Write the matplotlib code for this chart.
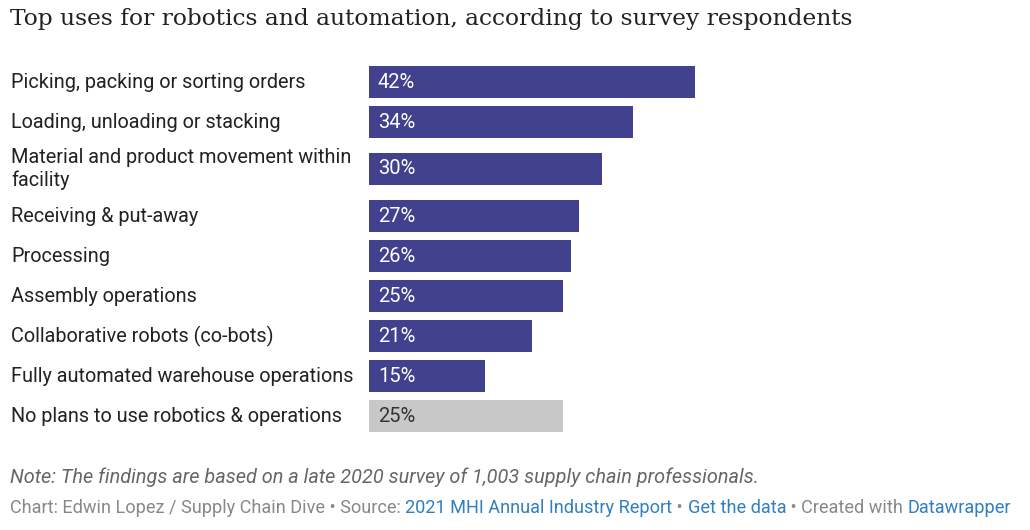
import numpy as np
import matplotlib.pyplot as plt

# chart data
categories = [
    "Picking, packing or sorting orders",
    "Loading, unloading or stacking",
    "Material and product movement within\nfacility",
    "Receiving & put-away",
    "Processing",
    "Assembly operations",
    "Collaborative robots (co-bots)",
    "Fully automated warehouse operations",
    "No plans to use robotics & operations",
]
values = [42, 34, 30, 27, 26, 25, 21, 15, 25]
highlight = [True] * 8 + [False]

title = "Top uses for robotics and automation, according to survey respondents"
note = "Note: The findings are based on a late 2020 survey of 1,003 supply chain professionals."
footer = [
    ("Chart: Edwin Lopez / Supply Chain Dive \u2022 Source: ", "#888888"),
    ("2021 MHI Annual Industry Report", "#2f7fc1"),
    (" \u2022 ", "#888888"),
    ("Get the data", "#2f7fc1"),
    (" \u2022 Created with ", "#888888"),
    ("Datawrapper", "#2f7fc1"),
]

W, H = 1030, 530
BAR_LEFT = 369
PX_PER_PCT = 7.76
ROW_H = 40
EXTRA_LINE = 14
BAR_H = 32
FIRST_TOP = 62

plt.rcParams['font.family'] = ['Roboto', 'DejaVu Sans']

fig = plt.figure(figsize=(W / 100, H / 100), dpi=100)
fig.patch.set_facecolor("white")
ax = fig.add_axes([BAR_LEFT / W, 0, 1 - BAR_LEFT / W, 1])
ax.set_xlim(0, (W - BAR_LEFT) / PX_PER_PCT)
ax.set_ylim(H, 0)
ax.axis("off")

# row centres in pixel units (two-line labels get a taller row)
centers = []
top = FIRST_TOP
for c in categories:
    h = ROW_H + EXTRA_LINE * c.count("\n")
    centers.append(top + h / 2)
    top += h

colors = ["#42418d" if hl else "#c8c8c8" for hl in highlight]
ax.barh(centers, values, height=BAR_H, color=colors, left=0)

for y, v, c, hl in zip(centers, values, categories, highlight):
    ax.text(9 / PX_PER_PCT, y, f"{v}%", va="center", ha="left",
            fontsize=14.5, color="white" if hl else "#333333")
    fig.text(11 / W, 1 - y / H, c, va="center", ha="left", fontsize=14.3,
             color="#222222", linespacing=1.28)

fig.text(10 / W, 1 - 19 / H, title, va="center", ha="left", fontsize=16.8,
         family=["DejaVu Serif"], color="#222222")
fig.text(10 / W, 1 - 477 / H, note, va="center", ha="left", fontsize=14.3,
         style="italic", color="#666666")

# footer with coloured link pieces
fig.canvas.draw()
renderer = fig.canvas.get_renderer()
x = 10
for txt, col in footer:
    t = fig.text(x / W, 1 - 508 / H, txt, va="center", ha="left",
                 fontsize=13.1, color=col)
    x += t.get_window_extent(renderer).width

fig.savefig("out.png", dpi=100)
